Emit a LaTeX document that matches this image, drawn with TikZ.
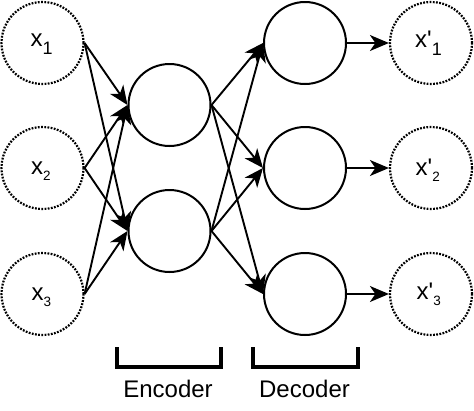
\documentclass[tikz,border=0pt]{standalone}
\usepackage{fontspec}
\newfontfamily\lab{Liberation Sans}
\usetikzlibrary{arrows.meta}
\newcommand\subbig[1]{\raisebox{-8pt}{\fontsize{18}{18}\selectfont #1}}
\newcommand\subsmall[1]{\raisebox{-6.5pt}{\fontsize{13.5}{13.5}\selectfont #1}}
\begin{document}
\begin{tikzpicture}[x=1pt,y=-1pt,
  neuron/.style={circle,draw,line width=2pt,minimum size=82pt,inner sep=0pt},
  io/.style={circle,draw,line width=2.2pt,dash pattern=on 1.8pt off 1.4pt,minimum size=82pt,inner sep=0pt},
  conn/.style={line width=1.9pt,-{Stealth[length=19pt,width=16pt,inset=5.5pt]}},
  brk/.style={line width=4pt,line cap=butt,line join=miter},
  lbl/.style={inner sep=0pt,font=\lab\fontsize{24}{24}\selectfont,anchor=base west},
  captext/.style={inner sep=0pt,font=\lab\fontsize{24}{24}\selectfont,anchor=base}
  ]
\useasboundingbox (0,0) rectangle (474,410);
% input layer
\node[io] (x1) at (42.5,43) {};
\node[io] (x2) at (42.5,168) {};
\node[io] (x3) at (42.5,294) {};
% encoder layer
\node[neuron] (h1) at (169.5,105) {};
\node[neuron] (h2) at (169.5,231) {};
% decoder layer
\node[neuron] (d1) at (305,43) {};
\node[neuron] (d2) at (305,168) {};
\node[neuron] (d3) at (305,294) {};
% output layer
\node[io] (o1) at (431,43) {};
\node[io] (o2) at (431,168) {};
\node[io] (o3) at (431,294) {};
% labels
\node[lbl] (lx1) at (30.5,46.5) {x\subbig{1}};
\node[lbl] (lx2) at (31,174) {x\subsmall{2}};
\node[lbl] (lx3) at (31.5,300) {x\subsmall{3}};
\node[lbl] (lo1) at (415,47) {x'\subbig{1}};
\node[lbl] (lo2) at (415.5,175) {x'\subsmall{2}};
\node[lbl] (lo3) at (416.5,299) {x'\subsmall{3}};
% connectors
\foreach \i in {1,2,3}{\foreach \j in {1,2}{\draw[conn] (x\i.east) -- (h\j.west);}}
\foreach \j in {1,2}{\foreach \k in {1,2,3}{\draw[conn] (h\j.east) -- (d\k.west);}}
\foreach \k in {1,2,3}{\draw[conn] (d\k.east) -- (o\k.west);}
% brackets
\coordinate (e1) at (117,347);
\coordinate (e2) at (220.5,347);
\coordinate (c1) at (252.5,347);
\coordinate (c2) at (357.5,347);
\draw[brk] (e1) -- ++(0,19.5) -| (e2);
\draw[brk] (c1) -- ++(0,19.5) -| (c2);
\node[captext] (enc) at (168,397) {Encoder};
\node[captext] (dec) at (304.5,397) {Decoder};
\end{tikzpicture}
\end{document}
